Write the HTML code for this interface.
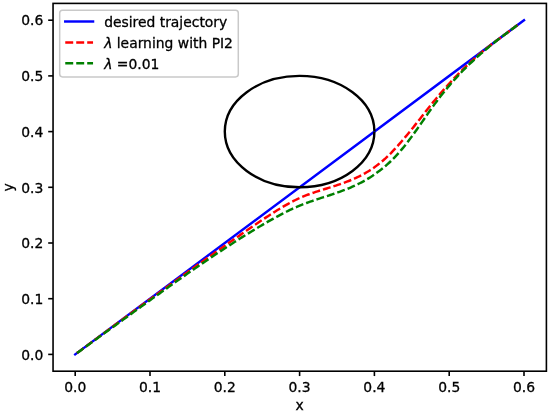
<!DOCTYPE html>
<html><head><meta charset="utf-8"><title>plot</title>
<style>html,body{margin:0;padding:0;background:#fff}svg{display:block}text{stroke:#000;stroke-width:.3px}</style></head>
<body>
<svg width="550" height="414" viewBox="0 0 550 414" font-family="DejaVu Sans, Liberation Sans, sans-serif" font-size="13.89px" fill="#000">
<rect width="550" height="414" fill="#fff"/>
<clipPath id="c"><rect x="53.05" y="3.4" width="493.34999999999997" height="367.8"/></clipPath>
<g clip-path="url(#c)" fill="none">
<path d="M75.20,354.40 L524.00,20.20" stroke="#0000ff" stroke-width="2.45" stroke-linecap="square"/>
<path d="M77.00,353.08 L78.83,351.73 L80.67,350.38 L82.50,349.02 L84.34,347.65 L86.18,346.28 L88.01,344.92 L89.85,343.55 L91.68,342.19 L93.52,340.83 L95.36,339.48 L97.19,338.13 L99.03,336.78 L100.86,335.42 L102.70,334.07 L104.54,332.72 L106.37,331.36 L108.21,330.01 L110.04,328.66 L111.88,327.30 L113.72,325.95 L115.55,324.60 L117.39,323.24 L119.22,321.89 L121.06,320.54 L122.90,319.18 L124.73,317.83 L126.57,316.47 L128.40,315.13 L130.24,313.79 L132.08,312.45 L133.91,311.11 L135.75,309.76 L137.58,308.41 L139.42,307.06 L141.26,305.70 L143.09,304.35 L144.93,303.01 L146.76,301.67 L148.60,300.33 L150.44,298.99 L152.27,297.65 L154.11,296.31 L155.94,294.97 L157.78,293.64 L159.62,292.31 L161.45,290.98 L163.29,289.66 L165.12,288.33 L166.96,287.01 L168.80,285.68 L170.63,284.35 L172.47,283.03 L174.30,281.70 L176.14,280.38 L177.98,279.05 L179.81,277.72 L181.65,276.40 L183.48,275.07 L185.32,273.74 L187.16,272.42 L188.99,271.10 L190.83,269.78 L192.66,268.47 L194.50,267.17 L196.34,265.86 L198.17,264.56 L200.01,263.27 L201.85,261.97 L203.68,260.66 L205.52,259.35 L207.35,258.03 L209.19,256.72 L211.03,255.42 L212.86,254.14 L214.70,252.86 L216.53,251.57 L218.37,250.28 L220.21,248.98 L222.04,247.68 L223.88,246.38 L225.71,245.09 L227.55,243.80 L229.39,242.51 L231.22,241.23 L233.06,239.95 L234.89,238.68 L236.73,237.41 L238.57,236.14 L240.40,234.87 L242.24,233.61 L244.07,232.36 L245.91,231.10 L247.75,229.84 L249.58,228.57 L251.42,227.29 L253.25,226.02 L255.09,224.76 L256.93,223.51 L258.76,222.29 L260.60,221.06 L262.43,219.84 L264.27,218.61 L266.11,217.39 L267.94,216.18 L269.78,214.97 L271.61,213.79 L273.45,212.62 L275.29,211.47 L277.12,210.33 L278.96,209.19 L280.79,208.08 L282.63,206.97 L284.47,205.89 L286.30,204.84 L288.14,203.81 L289.97,202.81 L291.81,201.83 L293.65,200.89 L295.48,199.98 L297.32,199.10 L299.15,198.25 L300.99,197.44 L302.83,196.67 L304.66,195.93 L306.50,195.21 L308.33,194.51 L310.17,193.84 L312.01,193.19 L313.84,192.56 L315.68,191.94 L317.51,191.34 L319.35,190.76 L321.19,190.19 L323.02,189.61 L324.86,189.03 L326.70,188.46 L328.53,187.89 L330.37,187.31 L332.20,186.73 L334.04,186.15 L335.88,185.56 L337.71,184.94 L339.55,184.32 L341.38,183.68 L343.22,183.03 L345.06,182.35 L346.89,181.67 L348.73,180.98 L350.56,180.25 L352.40,179.48 L354.24,178.68 L356.07,177.85 L357.91,176.98 L359.74,176.06 L361.58,175.12 L363.42,174.15 L365.25,173.14 L367.09,172.05 L368.92,170.93 L370.76,169.79 L372.60,168.58 L374.43,167.28 L376.27,165.89 L378.10,164.47 L379.94,163.01 L381.78,161.54 L383.61,160.00 L385.45,158.34 L387.28,156.60 L389.12,154.84 L390.96,153.03 L392.79,151.14 L394.63,149.20 L396.46,147.21 L398.30,145.20 L400.14,143.11 L401.97,140.99 L403.81,138.83 L405.64,136.66 L407.48,134.45 L409.32,132.21 L411.15,129.95 L412.99,127.67 L414.82,125.37 L416.66,123.05 L418.50,120.73 L420.33,118.40 L422.17,116.06 L424.00,113.71 L425.84,111.37 L427.68,109.05 L429.51,106.73 L431.35,104.42 L433.18,102.14 L435.02,99.91 L436.86,97.70 L438.69,95.52 L440.53,93.38 L442.36,91.26 L444.20,89.16 L446.04,87.08 L447.87,85.04 L449.71,83.03 L451.54,81.06 L453.38,79.11 L455.22,77.19 L457.05,75.29 L458.89,73.41 L460.73,71.56 L462.56,69.73 L464.40,67.93 L466.23,66.16 L468.07,64.41 L469.91,62.69 L471.74,60.99 L473.58,59.31 L475.41,57.65 L477.25,56.02 L479.09,54.43 L480.92,52.87 L482.76,51.33 L484.59,49.82 L486.43,48.35 L488.27,46.92 L490.10,45.50 L491.94,44.09 L493.77,42.71 L495.61,41.34 L497.45,39.97 L499.28,38.61 L501.12,37.24 L502.95,35.87 L504.79,34.50 L506.63,33.14 L508.46,31.77 L510.30,30.40 L512.13,29.04 L513.97,27.67 L515.81,26.30 L517.64,24.93" stroke="#ff0000" stroke-width="2.45" stroke-dasharray="7.95,3.025"/>
<path d="M77.00,353.09 L78.83,351.75 L80.67,350.41 L82.50,349.07 L84.34,347.73 L86.18,346.39 L88.01,345.05 L89.85,343.71 L91.68,342.38 L93.52,341.05 L95.36,339.73 L97.19,338.40 L99.03,337.08 L100.86,335.75 L102.70,334.43 L104.54,333.10 L106.37,331.77 L108.21,330.45 L110.04,329.12 L111.88,327.79 L113.72,326.47 L115.55,325.14 L117.39,323.82 L119.22,322.49 L121.06,321.16 L122.90,319.84 L124.73,318.51 L126.57,317.18 L128.40,315.86 L130.24,314.53 L132.08,313.21 L133.91,311.88 L135.75,310.55 L137.58,309.23 L139.42,307.90 L141.26,306.58 L143.09,305.25 L144.93,303.92 L146.76,302.59 L148.60,301.27 L150.44,299.95 L152.27,298.63 L154.11,297.32 L155.94,296.01 L157.78,294.70 L159.62,293.39 L161.45,292.07 L163.29,290.76 L165.12,289.45 L166.96,288.13 L168.80,286.82 L170.63,285.51 L172.47,284.20 L174.30,282.89 L176.14,281.59 L177.98,280.30 L179.81,279.00 L181.65,277.71 L183.48,276.42 L185.32,275.14 L187.16,273.86 L188.99,272.58 L190.83,271.31 L192.66,270.04 L194.50,268.77 L196.34,267.50 L198.17,266.22 L200.01,264.95 L201.85,263.68 L203.68,262.43 L205.52,261.18 L207.35,259.94 L209.19,258.70 L211.03,257.46 L212.86,256.23 L214.70,255.00 L216.53,253.77 L218.37,252.55 L220.21,251.35 L222.04,250.15 L223.88,248.95 L225.71,247.75 L227.55,246.56 L229.39,245.37 L231.22,244.18 L233.06,243.00 L234.89,241.82 L236.73,240.64 L238.57,239.47 L240.40,238.31 L242.24,237.15 L244.07,236.00 L245.91,234.86 L247.75,233.72 L249.58,232.59 L251.42,231.47 L253.25,230.35 L255.09,229.24 L256.93,228.14 L258.76,227.04 L260.60,225.95 L262.43,224.87 L264.27,223.79 L266.11,222.72 L267.94,221.66 L269.78,220.61 L271.61,219.58 L273.45,218.56 L275.29,217.56 L277.12,216.56 L278.96,215.57 L280.79,214.59 L282.63,213.62 L284.47,212.68 L286.30,211.75 L288.14,210.85 L289.97,209.97 L291.81,209.11 L293.65,208.27 L295.48,207.45 L297.32,206.65 L299.15,205.87 L300.99,205.11 L302.83,204.39 L304.66,203.69 L306.50,203.00 L308.33,202.33 L310.17,201.68 L312.01,201.04 L313.84,200.41 L315.68,199.78 L317.51,199.16 L319.35,198.55 L321.19,197.94 L323.02,197.34 L324.86,196.76 L326.70,196.18 L328.53,195.59 L330.37,194.98 L332.20,194.37 L334.04,193.74 L335.88,193.10 L337.71,192.45 L339.55,191.80 L341.38,191.14 L343.22,190.46 L345.06,189.75 L346.89,189.03 L348.73,188.28 L350.56,187.52 L352.40,186.72 L354.24,185.89 L356.07,185.05 L357.91,184.17 L359.74,183.25 L361.58,182.30 L363.42,181.33 L365.25,180.32 L367.09,179.23 L368.92,178.13 L370.76,177.01 L372.60,175.82 L374.43,174.52 L376.27,173.15 L378.10,171.79 L379.94,170.42 L381.78,169.05 L383.61,167.61 L385.45,166.05 L387.28,164.40 L389.12,162.73 L390.96,161.02 L392.79,159.21 L394.63,157.33 L396.46,155.39 L398.30,153.40 L400.14,151.32 L401.97,149.15 L403.81,146.93 L405.64,144.65 L407.48,142.29 L409.32,139.85 L411.15,137.38 L412.99,134.88 L414.82,132.31 L416.66,129.71 L418.50,127.09 L420.33,124.47 L422.17,121.83 L424.00,119.18 L425.84,116.54 L427.68,113.92 L429.51,111.30 L431.35,108.70 L433.18,106.14 L435.02,103.64 L436.86,101.17 L438.69,98.74 L440.53,96.36 L442.36,94.02 L444.20,91.73 L446.04,89.48 L447.87,87.27 L449.71,85.11 L451.54,82.98 L453.38,80.89 L455.22,78.84 L457.05,76.83 L458.89,74.86 L460.73,72.92 L462.56,71.01 L464.40,69.14 L466.23,67.31 L468.07,65.51 L469.91,63.73 L471.74,61.99 L473.58,60.27 L475.41,58.57 L477.25,56.90 L479.09,55.27 L480.92,53.66 L482.76,52.08 L484.59,50.51 L486.43,48.97 L488.27,47.44 L490.10,45.92 L491.94,44.42 L493.77,42.94 L495.61,41.50 L497.45,40.06 L499.28,38.64 L501.12,37.24 L502.95,35.87 L504.79,34.50 L506.63,33.14 L508.46,31.77 L510.30,30.40 L512.13,29.04 L513.97,27.67 L515.81,26.30 L517.64,24.93" stroke="#008000" stroke-width="2.45" stroke-dasharray="7.95,3.025"/>
<ellipse cx="299.60" cy="131.60" rx="74.80" ry="55.70" stroke="#000" stroke-width="2.4" pathLength="1000" stroke-dasharray="998.6 1.4"/>
</g>
<g stroke="#000" stroke-width="1.6">
<line x1="75.20" y1="371.2" x2="75.20" y2="376.06"/>
<line x1="53.05" y1="354.40" x2="48.19" y2="354.40"/>
<line x1="150.00" y1="371.2" x2="150.00" y2="376.06"/>
<line x1="53.05" y1="298.70" x2="48.19" y2="298.70"/>
<line x1="224.80" y1="371.2" x2="224.80" y2="376.06"/>
<line x1="53.05" y1="243.00" x2="48.19" y2="243.00"/>
<line x1="299.60" y1="371.2" x2="299.60" y2="376.06"/>
<line x1="53.05" y1="187.30" x2="48.19" y2="187.30"/>
<line x1="374.40" y1="371.2" x2="374.40" y2="376.06"/>
<line x1="53.05" y1="131.60" x2="48.19" y2="131.60"/>
<line x1="449.20" y1="371.2" x2="449.20" y2="376.06"/>
<line x1="53.05" y1="75.90" x2="48.19" y2="75.90"/>
<line x1="524.00" y1="371.2" x2="524.00" y2="376.06"/>
<line x1="53.05" y1="20.20" x2="48.19" y2="20.20"/>
</g>
<text x="75.20" y="391.52" text-anchor="middle">0.0</text>
<text x="43.33" y="359.65" text-anchor="end">0.0</text>
<text x="150.00" y="391.52" text-anchor="middle">0.1</text>
<text x="43.33" y="303.95" text-anchor="end">0.1</text>
<text x="224.80" y="391.52" text-anchor="middle">0.2</text>
<text x="43.33" y="248.25" text-anchor="end">0.2</text>
<text x="299.60" y="391.52" text-anchor="middle">0.3</text>
<text x="43.33" y="192.55" text-anchor="end">0.3</text>
<text x="374.40" y="391.52" text-anchor="middle">0.4</text>
<text x="43.33" y="136.85" text-anchor="end">0.4</text>
<text x="449.20" y="391.52" text-anchor="middle">0.5</text>
<text x="43.33" y="81.15" text-anchor="end">0.5</text>
<text x="524.00" y="391.52" text-anchor="middle">0.6</text>
<text x="43.33" y="25.45" text-anchor="end">0.6</text>
<text x="299.72" y="409.9" text-anchor="middle">x</text>
<text transform="translate(13.2,187.30) rotate(-90)" text-anchor="middle">y</text>
<rect x="53.05" y="3.4" width="493.34999999999997" height="367.8" fill="none" stroke="#000" stroke-width="1.6"/>
<rect x="59.7" y="10.3" width="178.60000000000002" height="66.60000000000001" rx="2.8" fill="#fff" fill-opacity="0.8" stroke="#c9c9c9" stroke-width="1.5"/>
<line x1="65.26" y1="21.5" x2="93.04" y2="21.5" stroke="#0000ff" stroke-width="2.45" stroke-linecap="square"/>
<line x1="65.26" y1="42.4" x2="93.04" y2="42.4" stroke="#ff0000" stroke-width="2.45" stroke-dasharray="7.95,3.025"/>
<line x1="65.26" y1="63.3" x2="93.04" y2="63.3" stroke="#008000" stroke-width="2.45" stroke-dasharray="7.95,3.025"/>
<text x="104.15" y="26.80">desired trajectory</text>
<text x="104.15" y="47.70"><tspan font-style="italic">λ</tspan> learning with PI2</text>
<text x="104.15" y="68.60"><tspan font-style="italic">λ</tspan> =0.01</text>
</svg>
</body></html>
